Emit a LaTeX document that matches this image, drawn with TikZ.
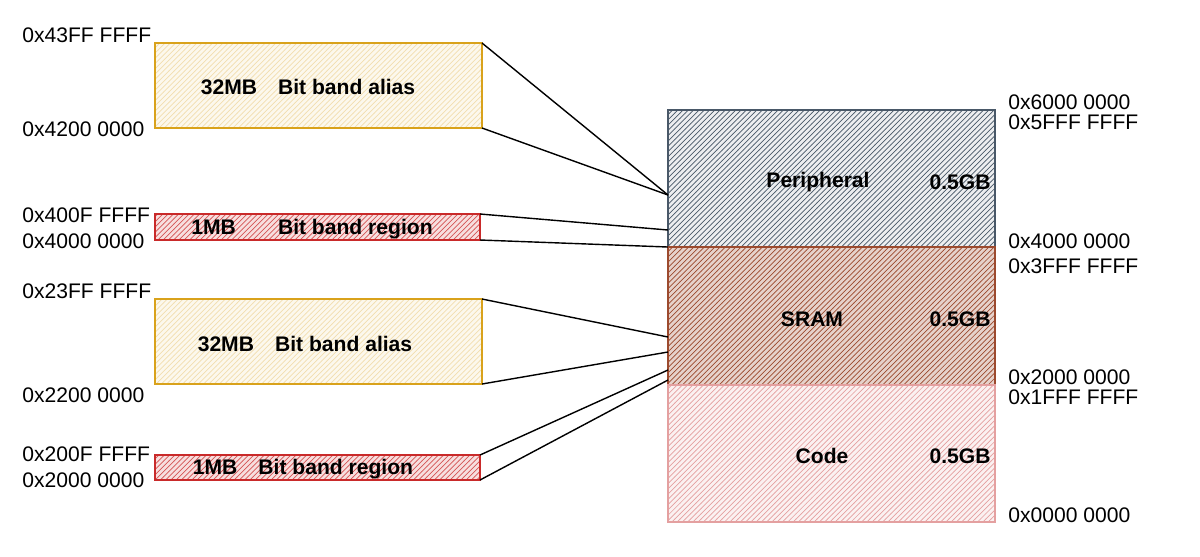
\documentclass[tikz,border=0pt]{standalone}
\usepackage{fontspec}
\setmainfont{Liberation Sans}
\usetikzlibrary{patterns}
\definecolor{org}{HTML}{D9A21B}
\definecolor{redb}{HTML}{C92A2A}
\definecolor{perl}{HTML}{495868}
\definecolor{sram}{HTML}{9C4A2E}
\definecolor{code}{HTML}{E4A0A0}
\begin{document}
\begin{tikzpicture}[x=0.02cm,y=-0.02cm,
  box/.style={draw=#1,line width=0.9pt},
  lbl/.style={font=\bfseries\fontsize{12}{14}\selectfont},
  addr/.style={anchor=west,font=\fontsize{12}{13}\selectfont,inner sep=0pt},
  con/.style={line width=0.8pt}]
\useasboundingbox (0,0) rectangle (1200,556);
% left boxes
\path[fill=org!8] (155,43) rectangle (482,128);
\path[pattern=north east lines,pattern color=org!35] (155,43) rectangle (482,128);
\draw[box=org] (155,43) rectangle (482,128);
\coordinate (a1) at (482,43); \coordinate (a2) at (482,128);
\node[lbl] at (308,87) {32MB\quad Bit band alias};

\path[fill=redb!15] (155,214) rectangle (480,240);
\path[pattern=north east lines,pattern color=redb!80] (155,214) rectangle (480,240);
\draw[box=redb] (155,214) rectangle (480,240);
\coordinate (b1) at (480,214); \coordinate (b2) at (480,240);
\node[lbl] at (312,229) {1MB\qquad Bit band region};

\path[fill=org!8] (155,299) rectangle (482,384);
\path[pattern=north east lines,pattern color=org!35] (155,299) rectangle (482,384);
\draw[box=org] (155,299) rectangle (482,384);
\coordinate (c1) at (482,299); \coordinate (c2) at (482,384);
\node[lbl] at (305,344) {32MB\quad Bit band alias};

\path[fill=redb!15] (155,455) rectangle (480,480);
\path[pattern=north east lines,pattern color=redb!80] (155,455) rectangle (480,480);
\draw[box=redb] (155,455) rectangle (480,480);
\coordinate (d1) at (480,455); \coordinate (d2) at (480,480);
\node[lbl] at (303,469) {1MB\quad Bit band region};

% right stack
\path[fill=perl!10] (668,110) rectangle (995,247);
\path[pattern=north east lines,pattern color=perl] (668,110) rectangle (995,247);
\draw[box=perl] (668,110) rectangle (995,247);
\node[lbl] at (818,182) {Peripheral};
\node[lbl] at (960,182) {0.5GB};

\path[fill=sram!25] (668,247) rectangle (995,385);
\path[pattern=north east lines,pattern color=sram] (668,247) rectangle (995,385);
\draw[box=sram] (668,247) rectangle (995,385);
\node[lbl] at (812,319) {SRAM};
\node[lbl] at (960,319) {0.5GB};

\path[fill=code!15] (668,385) rectangle (995,522);
\path[pattern=north east lines,pattern color=code] (668,385) rectangle (995,522);
\draw[box=code] (668,385) rectangle (995,522);
\node[lbl] at (822,456) {Code};
\node[lbl] at (960,456) {0.5GB};

\coordinate (p1) at (668,195);
\coordinate (p2) at (668,230);
\coordinate (p3) at (668,247);
\coordinate (s1) at (668,337);
\coordinate (s2) at (668,352);
\coordinate (s3) at (668,370);
\coordinate (s4) at (668,380);

\draw[con] (a1) -- (p1); \draw[con] (a2) -- (p1);
\draw[con] (b1) -- (p2); \draw[con] (b2) -- (p3);
\draw[con] (c1) -- (s1); \draw[con] (c2) -- (s2);
\draw[con] (d1) -- (s3); \draw[con] (d2) -- (s4);

% addresses
\node[addr] at (22,35) {0x43FF FFFF};
\node[addr] at (22,129) {0x4200 0000};
\node[addr] at (22,215) {0x400F FFFF};
\node[addr] at (22,241) {0x4000 0000};
\node[addr] at (22,291) {0x23FF FFFF};
\node[addr] at (22,395) {0x2200 0000};
\node[addr] at (22,454) {0x200F FFFF};
\node[addr] at (22,480) {0x2000 0000};
\node[addr] at (1008,102) {0x6000 0000};
\node[addr] at (1008,122) {0x5FFF FFFF};
\node[addr] at (1008,241) {0x4000 0000};
\node[addr] at (1008,266) {0x3FFF FFFF};
\node[addr] at (1008,377) {0x2000 0000};
\node[addr] at (1008,397) {0x1FFF FFFF};
\node[addr] at (1008,515) {0x0000 0000};
\end{tikzpicture}
\end{document}
